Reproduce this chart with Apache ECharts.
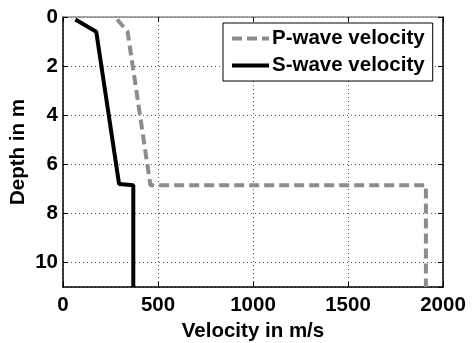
<!DOCTYPE html>
<html>
<head>
<meta charset="utf-8">
<script src="https://cdn.jsdelivr.net/npm/echarts@6/dist/echarts.min.js"></script>
<style>
html,body{margin:0;padding:0;background:#fff;}
#c{width:474px;height:343px;}
</style>
</head>
<body>
<div id="c"></div>
<script>
// Data
const pVelocity = [285, 340, 460, 1910, 1910];
const pDepth    = [0.1, 0.6, 6.85, 6.85, 11];
const sVelocity = [65, 175, 295, 370, 370];
const sDepth    = [0.1, 0.6, 6.8, 6.85, 11];
const xTicks = [0, 500, 1000, 1500, 2000];
const yTicks = [0, 2, 4, 6, 8, 10];
const seriesNames = ['P-wave velocity', 'S-wave velocity'];

const font = 'Liberation Sans, Arial, Helvetica, sans-serif';
const fs = 20.5;
const pData = pVelocity.map((v, i) => [v, pDepth[i]]);
const sData = sVelocity.map((v, i) => [v, sDepth[i]]);

const chart = echarts.init(document.getElementById('c'), null, {renderer: 'canvas'});
const gridLine = {show: true, lineStyle: {color: '#555', width: 1, type: [1, 3]}};
const txt = {fontFamily: font, fontSize: fs, fontWeight: 'bold', color: '#000'};
chart.setOption({
  animation: false,
  backgroundColor: '#fff',
  grid: {left: 63, right: 31, top: 17, bottom: 56, containLabel: false, outerBoundsMode: 'none'},
  legend: {
    orient: 'vertical',
    left: 223, top: 23,
    padding: [5, 8, 5, 7],
    itemGap: 6,
    itemWidth: 37, itemHeight: 22,
    backgroundColor: '#fff',
    borderColor: '#000', borderWidth: 1, borderRadius: 0,
    itemStyle: {opacity: 0},
    lineStyle: {width: 4},
    textStyle: Object.assign({padding: [0, 0, 0, -2]}, txt),
    data: seriesNames
  },
  xAxis: [{
    type: 'value', min: xTicks[0], max: xTicks[xTicks.length - 1], interval: 500,
    position: 'bottom',
    name: 'Velocity in m/s', nameLocation: 'middle', nameGap: 27,
    nameTextStyle: txt,
    axisLine: {show: true, onZero: false, lineStyle: {color: '#000', width: 1.5}},
    axisTick: {show: true, inside: true, length: 5, lineStyle: {color: '#000'}},
    axisLabel: Object.assign({margin: 8, formatter: v => String(v)}, txt),
    splitLine: gridLine
  }, {
    type: 'value', min: xTicks[0], max: xTicks[xTicks.length - 1], interval: 500,
    position: 'top',
    axisLine: {show: true, onZero: false, lineStyle: {color: '#888', width: 1.5}},
    axisTick: {show: true, inside: true, length: 5, lineStyle: {color: '#000'}},
    axisLabel: {show: false},
    splitLine: {show: false}
  }],
  yAxis: [{
    type: 'value', inverse: true, min: yTicks[0], max: 11, interval: 2,
    position: 'left',
    name: 'Depth in m', nameLocation: 'middle', nameGap: 34, nameMoveOverlap: false,
    nameTextStyle: txt,
    axisLine: {show: true, onZero: false, lineStyle: {color: '#000', width: 1.5}},
    axisTick: {show: true, inside: true, length: 5, lineStyle: {color: '#000'}},
    axisLabel: Object.assign({margin: 5, showMaxLabel: false}, txt),
    splitLine: gridLine
  }, {
    type: 'value', inverse: true, min: yTicks[0], max: 11, interval: 2,
    position: 'right',
    axisLine: {show: true, onZero: false, lineStyle: {color: '#000', width: 1.5}},
    axisTick: {show: true, inside: true, length: 5, lineStyle: {color: '#000'}},
    axisLabel: {show: false},
    splitLine: {show: false}
  }],
  series: [{
    name: seriesNames[0], type: 'line', data: pData, symbol: 'none',
    xAxisIndex: 0, yAxisIndex: 0,
    lineStyle: {color: '#8c8c8c', width: 4, type: [10, 5]},
    itemStyle: {color: '#8c8c8c'}
  }, {
    name: seriesNames[1], type: 'line', data: sData, symbol: 'none',
    xAxisIndex: 0, yAxisIndex: 0,
    lineStyle: {color: '#000', width: 4},
    itemStyle: {color: '#000'}
  }]
});
</script>
</body>
</html>
